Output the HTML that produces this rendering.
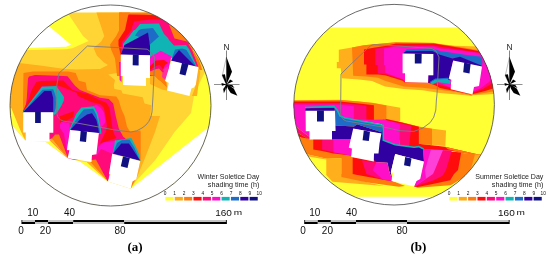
<!DOCTYPE html>
<html><head><meta charset="utf-8"><title>Shading time</title>
<style>
html,body{margin:0;padding:0;background:#fff;}
svg{display:block;font-family:"Liberation Sans",sans-serif;}
</style></head><body>
<svg width="550" height="260" viewBox="0 0 550 260">
<defs>
<clipPath id="cl"><circle cx="110.5" cy="105.5" r="100.5"/></clipPath>
<clipPath id="cr"><circle cx="394.1" cy="104.7" r="100.3"/></clipPath>
</defs>
<rect width="550" height="260" fill="#fff"/>
<g clip-path="url(#cl)">
<polygon points="0,12.6 230,12.6 230,215 0,215" fill="#ffd535"/>
<polygon points="192,38 196,50 205,72 200,82 194,96 191,113 174.6,132 155.3,160 132.5,185 130.7,188.7 230,188.7 230,38" fill="#ffff33"/>
<polygon points="40,22 62,8 69,15 83,36 88.6,41 72.3,48.2 66,49.2 10,50.5 10,30" fill="#ffff33"/>
<polygon points="40,18 50,27 71,44.8 66,46.8 10,48.6 10,18" fill="#ffffff"/>
<polygon points="96.4,12.6 104.3,36 101.2,41.6 93.6,48 96.8,55.4 103.7,62.3 108,65 100,69 76,69.5 65,69 40,65.5 19,63 0,62 0,140 60,140 100,150 130.7,188.7 136.3,179.3 145,158 155,132 160,116 150.2,116 151.4,105.3 144.5,103.4 142.7,97.2 122.6,93.4 121.3,90.3 114.4,89 113.8,85.3 115,80 108.3,74.4 122,72 122,12.6" fill="#ffae1c"/>
<polygon points="119,12.6 119,30.6 116.2,36 110,44.8 111.2,49.8 115,58.6 116.2,68 117,76 122,76 122,50 130,12.6" fill="#ff7d0c"/>
<polygon points="23.5,73 33,71.6 68.2,71.6 75.7,73.1 78.8,80.7 85.7,82.5 87,90 100,95.3 116.3,96.5 118.8,100.3 121.3,109 124.5,116 127,126.7 130,131.7 140.2,130.4 140.7,132 140.7,158 140.3,161 137,176 131,188 120,170 100,150 60,140 23.2,112.3 23,103" fill="#ff7d0c"/>
<polygon points="119,12.6 162,12.6 162,17 128,17" fill="#ff7d0c"/>
<polygon points="128,16 128.6,14.6 144,14.8 160,15.5 165,22 150,30 140,40 126,56 120.5,54.5 118.5,45 118.5,40 125,30" fill="#ff0c0c"/>
<polygon points="134,21.5 150,19.5 160,19.5 168,18 172,26 180,30 190,42 193.3,52.5 198.3,65 199,68 190,66 170,50 140,50 121.5,53.5 121,50 122,42 131.5,30 132,27" fill="#ff0a78"/>
<polygon points="169,24.5 174.5,38.5 187,41.5 189,43.5 200,43.5 200,20 172,20" fill="#ff7d0c"/>
<polygon points="188.5,44 192,50 196,60 198,66 199.5,70 210,70 210,44" fill="#ff7d0c"/>
<polygon points="193,50 199,60 201,66 203,72 212,72 212,50" fill="#ffd535"/>
<polygon points="198,66.5 200.3,72 198.8,82 197,96 192,96 195,88" fill="#ffae1c"/>
<polygon points="29,76.5 35,75 58.2,75.8 67.5,76.3 73.2,83.6 75,85.7 80,90 100,97.8 108.8,99 113.2,103.4 115.7,116 118.8,128.5 123.2,136.7 126,139 120,160 70,160 40,135 23.2,112.3 25.8,105 26.8,98 28,78.5" fill="#ff0a78"/>
<polygon points="36.2,82.3 40.6,81 63.2,80.4 67,84.8 72.5,90 88.9,94.5 100,100.3 106.3,102.8 109.4,107.8 110.7,116 112.5,128.5 113.8,133.6 116.3,138 107.5,141 100,143.6 106.3,130.4 107,126 105.6,116 103.8,107.8 100,104 95.2,103 91.4,102 77.6,95.7 77,93 62,86.7 57,85.5 41.9,86 33,98 24,111.5 23,111 29.3,98 31.2,91" fill="#ff0c0c"/>
<polygon points="73.8,111.3 73.2,117 66.3,120.7 60.2,123 57.5,125 60,116.3" fill="#ff0c0c"/>
<polygon points="57.7,127.6 61.3,121.7 69.5,123 70,130 68.4,138 68,158 63,140" fill="#ff10c8"/>
<polygon points="98,147 99,146 103,142.5 113.5,141 116,140 113,154 108,182 96,156" fill="#ff10c8"/>
<polygon points="140,24 159,23.5 164,34 168,38 169,40 174,45.5 186,45 189,49 194,60 196.5,66 190,66 172,58 150,58 125,55 121.5,53 123,49 123,44 134,30 135,30" fill="#10b4b4"/>
<polygon points="141.5,29 153,28 157,34 159,36.5 150,44.5 148,40 135,35.5 139,30" fill="#1c6cc8"/>
<polygon points="150,57 160.7,50.7 171.4,56.3 169.5,65 168,75 166.5,81 150,80" fill="#ff10c8"/>
<polygon points="162,70 168.5,66 168,75 166.5,81 162,77" fill="#ff30a0"/>
<polygon points="150,66 156,60.5 164,60 168,63 165,65 163,69.5 159,65 155,67 150,70" fill="#ff0c0c"/>
<polygon points="150,70 155,67 159,65 163,69.5 164,72 162.5,72.5 159,68.5 155,69.5 150,71.5" fill="#ff0a78"/>
<polygon points="150,71.5 155,69.5 159,68.5 162.5,72.5 162,77 166.3,80.5 167,88 155,76 150,75" fill="#ff7d0c"/>
<polygon points="150,76 155,76 167,88 167,90.5 162.5,89.8 150,84" fill="#ffae1c"/>
<polygon points="119,62 121.5,62 121.5,82 119.6,80" fill="#ff10c8"/>
<polygon points="148,32.5 150,46 150,55.4 120.6,54.8 121,54 124.5,45" fill="#3000a0"/>
<polygon points="175,49.5 182.5,48.5 186.5,50 193,61 196,66 197.5,67.5 171,61 172.5,57" fill="#1c6cc8"/>
<polygon points="179,50 195,66 197,67.3 171.5,60.5 173,57.5" fill="#3000a0"/>
<polygon points="41.9,86.7 56.3,86 64,97 63.8,100.4 61.5,105.4 57.5,112 54.5,115 53,112.5 22.5,112.5" fill="#10b4b4"/>
<polygon points="42.5,89.8 53.2,89.2 56.5,98 56.2,100 55.6,108.5 54,113 53,112.3 23,112.3" fill="#1c6cc8"/>
<polygon points="44.4,91 51.3,91 53.2,98 53.2,112.3 23,112.3" fill="#3000a0"/>
<polygon points="93.9,106.3 96,104.5 101,108 104,112.5 105.5,122 101,128" fill="#ff10c8"/>
<polygon points="69.4,129.5 76.3,113.8 81.3,107.5 93.9,106.3 97.6,113.8 100.2,125 101.5,133.5 100,134" fill="#10b4b4"/>
<polygon points="70.5,129.8 71.9,125.7 78.8,115.7 83.8,109.4 93.2,108.8 96.4,115 98.9,125 100.3,133.2" fill="#1c6cc8"/>
<polygon points="70.5,129.8 72.5,127.6 80,119.4 87,114.4 92,113.2 96.4,120 98.3,128.2 99,133.3" fill="#3000a0"/>
<polygon points="112.5,153.5 113.8,148 115,140.5 131.4,138 136.4,148 139,154 140.5,161" fill="#10b4b4"/>
<polygon points="113,153.6 117,143 122.6,139.8 129.5,139.8 134.5,148 140,160.5" fill="#1c6cc8"/>
<polygon points="113,153.6 117.6,148 121.3,143.6 128.9,143.6 132,148 140,160.5" fill="#3000a0"/>
<polygon points="11.3,108 19.4,128 23.5,137 25.7,140.8 12.5,125.8 5,120 5,108" fill="#ffff33"/>
<polygon points="49.5,132.7 53.3,132.7 53.3,115 60,115 60,128 64,134 68,158 59,134.5 55,134.5 52,138.3 49.5,139" fill="#ff0a78"/>
<polygon points="52,138.3 55,134.5 59,134.5 68,158" fill="#ff7d0c"/>
<polygon points="49,139.6 52,138.3 68,158" fill="#ffae1c"/>
<polygon points="45.2,141.4 49,139.6 68,158" fill="#ffff33"/>
<polygon points="91.5,155.6 97,155.3 101,149 112.2,153.8 109,174 107.8,181.4" fill="#ff0a78"/>
<polygon points="90.2,162.3 91.5,160 95.9,159.4 107.8,181.4" fill="#ff7d0c"/>
<polygon points="86.5,162 90.2,162.3 107.8,181.4" fill="#ffae1c"/>
<polygon points="79.6,161.3 86.5,162 107.8,181.4" fill="#ffff33"/>
<polygon points="5,124 12.5,125.8 25.7,140.8 45.2,141.4 67.6,158.2 79.6,161.3 107.8,181.4 130.7,188.7 169.6,158 206.3,129 230,110 230,230 0,230" fill="#ffffff"/>
<polygon points="120.8,54.6 150,55.3 150,78 146,78 146,86 123,85 123,76 120.8,76" fill="#fff"/><polygon points="132.8,54.6 138.7,54.8 138.6,65.5 132.7,65.3" fill="#101080"/>
<polygon points="171.2,60.7 198.5,67 195.8,84.8 194,87.5 191.4,88.6 189.5,96 167,90.5 168.8,83 165,81" fill="#fff"/><polygon points="182,62.8 188.5,64.3 185.5,75.5 179.5,74" fill="#101080"/>
<polygon points="23.2,112.3 53.3,112.3 53.3,132.7 49.5,132.7 49.5,141.4 25.7,141.4 25.7,132.5 23.2,132.5" fill="#fff"/><polygon points="35.1,112 40.8,112 40.8,123 35.1,123" fill="#101080"/>
<polygon points="70,129.9 98.9,133 96.4,154.3 92,155 91.5,162 67.6,158.2 69.4,150.3 66.9,150" fill="#fff"/><polygon points="80.7,130.8 87,131.5 86,142 79.8,141.3" fill="#101080"/>
<polygon points="112.2,153.8 140.3,161 136.3,179.3 132.5,181.5 130.7,188.7 107.8,181.4 110.5,174.5 109,173.8" fill="#fff"/><polygon points="123,156.4 129.8,158.1 127.5,168 120.8,166.3" fill="#101080"/>
<path d="M87.4,46 L147.2,49.2 L151,52.3 L154.7,57.3 L153,96 L152,112 Q150.5,123 142,128 Q137,131.5 131,132 L115,130 L77,123 L63,121 Q57.5,119 57,114 L56,96 L57,84 L59,73 L64.8,68 Z" fill="none" stroke="#7d7d86" stroke-width="0.9"/>
</g>
<circle cx="110.5" cy="105.5" r="100.5" fill="none" stroke="#444" stroke-width="0.8"/>
<g clip-path="url(#cr)">
<polygon points="280,27.6 510,27.6 510,196.8 280,196.8" fill="#ffff33"/>
<polygon points="338.8,49.7 352,47.5 364,45.2 374,44.2 396,42.2 433.6,42.8 440,44 455,45.8 478,46.6 500,47.5 500,94.2 494,94 473.2,95.3 471.4,95.8 440,93 422.6,90.2 403.8,89 385,86.5 372,81 358.9,79.5 342,78.3 340.7,68.3 336.8,68.3 336.8,62 338.8,62" fill="#ffae1c"/>
<polygon points="352,47.6 364,45.3 374,44.3 396,42.3 433.6,43 440,44.2 462,47.3 478,50 500,54 500,91.3 493,91.5 473,94.7 471.4,95.5 454,91.5 422.6,87.7 403.8,86.5 385,80.8 378,77.7 366.4,76.5 353.2,75.8" fill="#ff7d0c"/>
<polygon points="364,49.5 375.2,47.6 385,46 396,43.6 433.6,43.6 440,44.6 470,49.6 478.3,50.9 500,55 500,87.5 493,88.5 485,91 473,94 470,94.2 452.5,90.5 440,88 435.2,85.2 428,82.7 405,82.7 402.6,80.8 385,75.2 378,74.5 366.4,74.5 366.4,64.5 364,64.5" fill="#ff0c0c"/>
<polygon points="375.2,48.8 384,47.3 396,45.5 433.6,45.5 440,46.7 470,51.3 478,52.5 500,57 500,81 492,83.5 483,89 473.5,92.6 449,87.5 437.7,84.5 428,82 405,82 402.6,79.5 385,74 377.7,73.5 377.7,65 375.2,65" fill="#ff0a78"/>
<polygon points="384,48.4 396,46.6 433.6,46.6 440,48.5 465,51 481.4,53.6 500,58 500,75 491,80 489,82 481,88 473.5,91.5 460,88 449,87 437.7,82 428,82 405,81.4 402.6,79 400,78.3 385.2,72.7 385.2,65 384,65" fill="#ff10c8"/>
<polygon points="406.7,49.2 432.4,48.5 440,51 465,54.8 481.4,56.7 482.5,62 481.4,66 460,57 452.5,58.6 440,56 433,53.5 404,53.5 403.5,53" fill="#1c6cc8"/>
<polygon points="403.5,53 406,51.3 432.4,51 440,54.8 452.5,58.6 460,56.7 481.4,65.5 482,67 453,61 449,80.8 447.7,79 435.2,79.6 430.2,82.7 428.3,82.7 428.3,75.2 433.3,75.2 433.3,54 403,54" fill="#3000a0"/>
<polygon points="430.2,81.5 435.2,78.4 447.7,77.8 449.3,79 435.2,79.6 430.2,82.7" fill="#1c6cc8"/>
<polygon points="430.2,82.7 435.2,79.6 447.7,79 450.9,81.4 450.2,84 437.7,82 432,84.6" fill="#10b4b4"/>
<polygon points="290,100.4 340,99.8 359,101.4 372.6,102.8 387.7,105.6 400.2,107.8 400.2,121 290,121" fill="#ffae1c"/>
<polygon points="290,100.6 340,100 359,101.6 372.6,103 386.4,105.6 386.4,120 290,120" fill="#ff7d0c"/>
<polygon points="290,101.6 340,101.6 359,103.4 373.9,105.2 373.9,120 290,120" fill="#ff0c0c"/>
<polygon points="290,103 340,103 359,104.8 366.4,105.8 366.4,121 290,121" fill="#ff0a78"/>
<polygon points="290,104.5 340,104.5 353.8,106.3 353.8,121 345,119 338,110 334,107.5 305,108.5 310,108.5 310,137.3 296.5,127 290,124" fill="#ff10c8"/>
<polygon points="290,123.5 296.5,127 310,137.3 310,140 298,133 290,128" fill="#ff0a78"/>
<polygon points="290,128.5 298,133 310,139.8 310,141 299,137 290,132" fill="#ff0c0c"/>
<polygon points="353.8,119.3 372.6,119.8 385,119.5 400,122.5 399.5,145 395.2,144.7 383.3,140.3 382,124.2 345,118.2" fill="#ff10c8"/>
<polygon points="385,118.6 400,121.8 420,126.8 432.7,128.7 446,130.6 445.4,146 408.8,142.8 400,141" fill="#ffae1c"/>
<polygon points="385,118.7 400,121.9 420,126.9 432,128.7 432,144.9 408.8,142.8 400,141" fill="#ff7d0c"/>
<polygon points="385,118.8 400,122 418.8,126.8 418.8,146.6 414,147.2 405,146 400,141" fill="#ff0c0c"/>
<polygon points="399.5,123.3 411.5,125.8 409,146.6 399.5,145" fill="#ff0a78"/>
<polygon points="383,119.6 400,123.4 399.5,145 395.2,144.7 383.3,140.3" fill="#ff10c8"/>
<polygon points="334.5,107.5 337.7,110.8 340,115.8 345,118 383.2,125.3 382.5,132.6 357,124.2 354,126.4 336,125.5 334.5,125" fill="#1c6cc8"/>
<polygon points="334.5,125 336,125.5 354,126.4 357,124.2 382.5,132.6 382,134 354,129 353,141 332,141 332,131" fill="#3000a0"/>
<polygon points="305.5,108.3 334.5,108 334.5,111 305.5,111" fill="#3000a0"/>
<polygon points="381.4,133.4 382.8,127 383.3,140.3 395.2,144.7 414,147.2 418.8,146.6 423.8,149 424,162 395.2,154 390.8,172.2 392.6,181 388.9,170.3 387.6,162.8 375,162 372,160 372,150 377,143" fill="#3000a0"/>
<polygon points="290,132 299,137 310,139 347.8,139 351,155.4 352,157.5 341.4,158.2 327,158.8 308,154.4 295,150" fill="#ff7d0c"/>
<polygon points="300,154 308,154.4 327,158.8 341.4,158.2 341.4,173.8 367.6,182.4 384,186 332.5,181.8 326.3,175 326.3,159.4 305,156" fill="#ffae1c"/>
<polygon points="313.3,139 348,139 351,155.4 333.4,153.5 322.1,151 313.3,149.5" fill="#ff0c0c"/>
<polygon points="322.1,139 348,139 351,155.4 333.4,152.2 322.1,149.7" fill="#ff0a78"/>
<polygon points="333.4,139 353,139 353,156 351,155.4 333.4,152.2" fill="#ff10c8"/>
<polygon points="341.4,157.5 352.7,157 375,161.5 392.6,181 405,186 399,186.8 367.6,182.4 341.4,177" fill="#ff7d0c"/>
<polygon points="352.7,157 374,160 392.6,180.5 392.6,181.6 355,174.5 352.7,174" fill="#ff0c0c"/>
<polygon points="362,160.3 376.3,162.8 390,176 383,179.8 366.3,174" fill="#ff0a78"/>
<polygon points="375,162 387.6,162.8 388.9,170.3 392.6,181 383.2,179.7 372.6,170.3 376.3,162.8" fill="#ff10c8"/>
<polygon points="408.8,142.8 416,143.6 444.9,146.8 475,153.7 482.5,155 474.3,154.6 461,152.6 451,150.7 423.5,149.5 418.8,146.6" fill="#ff0c0c"/>
<polygon points="444.9,146.8 475,153.7 482.5,155 474.3,154.6 461,152.6 448,149.2" fill="#ff7d0c"/>
<polygon points="470,154 482.5,155 490,156 471.8,170 465,180 460,178 468,170" fill="#ffae1c"/>
<polygon points="423.5,149.3 475,154.3 470.6,170 462.7,178 452,184.5 450.2,185.2 417.6,187.7 414.4,186.4 416.5,181 420.2,179 424,161.5" fill="#ff7d0c"/>
<polygon points="423.5,149.3 461.2,152.4 458,170 454,174 450.2,180.2 432.6,184 417.6,187 414.4,186.4 416.5,181 420.2,179 424,161.5" fill="#ff0c0c"/>
<polygon points="423.5,149.3 451.8,150.5 446,170 442.7,175.8 432.6,180.8 414.4,186.4 416.5,181 420.2,179 424,161.5" fill="#ff0a78"/>
<polygon points="423.5,149.3 443,150 434.8,170 433,174 414.4,186.4 416.5,181 420.2,179 424,161.5" fill="#ff40d8"/>
<polygon points="423.5,149.3 431,149.6 425,170 426,178.5 414.4,186.4 416.5,181 420.2,179 424,161.5" fill="#ff10c8"/>
<path d="M305,107.5 L334,106.4 L337.7,110.8 L340,115.8 L345,118 L383.2,125.3 L383.3,140.3 L395.2,144.7 L414,147.2 L418.8,146.6 L423.8,149" fill="none" stroke="#10b4b4" stroke-width="1.6"/>
<polygon points="402.6,53.6 433.3,54 433.3,75.2 428.3,75.2 428,82.7 405,82.3 405,73.3 402.6,73.3" fill="#fff"/><polygon points="414.8,53.5 421.7,53.6 421.5,63.6 414.8,63.5" fill="#101080"/>
<polygon points="453.2,60.5 482,66.5 479,86 474,87 472.5,94.5 450.7,89.2 451.3,79.8 448.8,78.5" fill="#fff"/><polygon points="464.2,62.6 470.6,63.9 469.5,73.5 463.2,72.3" fill="#101080"/>
<polygon points="305.6,110.8 335,110.8 335.6,131 332,131 332,139.6 309.5,139.6 309.5,131.3 305.8,131.3" fill="#fff"/><polygon points="317,110.6 323.9,110.6 323.9,121.5 317,121.5" fill="#101080"/>
<polygon points="353.2,128.4 381.4,133.4 379.5,143.4 378.5,153.5 374,153.5 373.8,161.5 351.3,157 351.9,148.5 348.8,147.8" fill="#fff"/><polygon points="363.8,130.6 370,131.7 368.8,141 362.6,140.3" fill="#101080"/>
<polygon points="395.2,154 424,161.5 420.2,179 416.5,181 414,186.4 391.4,181 393.3,172.8 390.8,172.2" fill="#fff"/><polygon points="405.2,157 411.5,158.6 410.2,166.5 404,165.3" fill="#101080"/>
<path d="M370.2,46 Q372,44.8 374,44.7 L399,46 L432,48.5 L436,51 L439,57 L437,94 L436.4,100 L435.8,110 Q434.5,118 430.2,122.6 Q423,129.5 413.9,131.4 L400,130.7 L385.2,127.4 L346.3,121 Q341,119.5 340.6,113 L341,74 L353.2,62 Z" fill="none" stroke="#7d7d86" stroke-width="0.9"/>
</g>
<circle cx="394.1" cy="104.7" r="100.3" fill="none" stroke="#444" stroke-width="0.8"/>
<text x="226.5" y="49.6" font-size="8.4" text-anchor="middle" fill="#222">N</text>
<line x1="226.5" y1="50.5" x2="226.5" y2="100" stroke="#333" stroke-width="0.6"/>
<line x1="214.0" y1="84.5" x2="239.5" y2="84.5" stroke="#444" stroke-width="0.6"/>
<polygon points="226.5,57.0 222.2,76.0 226.5,84.5" fill="#fff" stroke="#444" stroke-width="0.35"/>
<polygon points="226.5,57.0 232.0,71.8 226.5,84.5" fill="#000"/>
<polygon points="221.9,74.7 224.9,74.3 226.8,83.5 226.5,84.5 225.7,83.5" fill="#000"/>
<polygon points="230.1,79.5 233.1,81.3 226.5,84.5" fill="#000"/>
<polygon points="226.5,84.5 228.1,89.1 230.7,93.1 237.4,95.7 233.9,88.7 229.5,85.5" fill="#000"/>
<polygon points="232.3,85.1 234.5,88.1 226.5,84.5" fill="#000"/>
<polygon points="226.5,84.5 223.2,88.9 223.9,93.3 225.6,89.5" fill="#000"/>
<polygon points="221.5,82.9 221.9,85.7 226.5,84.5" fill="#000"/>
<polygon points="225.5,84.5 227.5,84.5 227.0,88.5 226.0,88.5" fill="#000"/>
<text x="509.5" y="49.6" font-size="8.4" text-anchor="middle" fill="#222">N</text>
<line x1="509.5" y1="50.5" x2="509.5" y2="100" stroke="#333" stroke-width="0.6"/>
<line x1="497.0" y1="84.5" x2="522.5" y2="84.5" stroke="#444" stroke-width="0.6"/>
<polygon points="509.5,57.0 505.2,76.0 509.5,84.5" fill="#fff" stroke="#444" stroke-width="0.35"/>
<polygon points="509.5,57.0 515.0,71.8 509.5,84.5" fill="#000"/>
<polygon points="504.9,74.7 507.9,74.3 509.8,83.5 509.5,84.5 508.7,83.5" fill="#000"/>
<polygon points="513.1,79.5 516.1,81.3 509.5,84.5" fill="#000"/>
<polygon points="509.5,84.5 511.1,89.1 513.7,93.1 520.4,95.7 516.9,88.7 512.5,85.5" fill="#000"/>
<polygon points="515.3,85.1 517.5,88.1 509.5,84.5" fill="#000"/>
<polygon points="509.5,84.5 506.2,88.9 506.9,93.3 508.6,89.5" fill="#000"/>
<polygon points="504.5,82.9 504.9,85.7 509.5,84.5" fill="#000"/>
<polygon points="508.5,84.5 510.5,84.5 510.0,88.5 509.0,88.5" fill="#000"/>
<rect x="165.40" y="196.9" width="8.1" height="3.6" fill="#ffff33"/>
<rect x="174.76" y="196.9" width="8.1" height="3.6" fill="#ffaa10"/>
<rect x="184.12" y="196.9" width="8.1" height="3.6" fill="#ff7d0c"/>
<rect x="193.48" y="196.9" width="8.1" height="3.6" fill="#ff0c0c"/>
<rect x="202.84" y="196.9" width="8.1" height="3.6" fill="#ff0a78"/>
<rect x="212.20" y="196.9" width="8.1" height="3.6" fill="#ff10c8"/>
<rect x="221.56" y="196.9" width="8.1" height="3.6" fill="#10b4b4"/>
<rect x="230.92" y="196.9" width="8.1" height="3.6" fill="#1c6cc8"/>
<rect x="240.28" y="196.9" width="8.1" height="3.6" fill="#3000a0"/>
<rect x="249.64" y="196.9" width="8.1" height="3.6" fill="#101080"/>
<text x="165.20" y="195.3" font-size="4.8" text-anchor="middle" fill="#111">0</text>
<text x="174.60" y="195.3" font-size="4.8" text-anchor="middle" fill="#111">1</text>
<text x="184.00" y="195.3" font-size="4.8" text-anchor="middle" fill="#111">2</text>
<text x="193.40" y="195.3" font-size="4.8" text-anchor="middle" fill="#111">3</text>
<text x="202.80" y="195.3" font-size="4.8" text-anchor="middle" fill="#111">4</text>
<text x="212.20" y="195.3" font-size="4.8" text-anchor="middle" fill="#111">5</text>
<text x="221.60" y="195.3" font-size="4.8" text-anchor="middle" fill="#111">6</text>
<text x="231.00" y="195.3" font-size="4.8" text-anchor="middle" fill="#111">7</text>
<text x="240.40" y="195.3" font-size="4.8" text-anchor="middle" fill="#111">8</text>
<text x="249.80" y="195.3" font-size="4.8" text-anchor="middle" fill="#111">9</text>
<text x="259.20" y="195.3" font-size="4.8" text-anchor="middle" fill="#111">10</text>
<text x="259.4" y="179.3" font-size="7.05" text-anchor="end" fill="#222">Winter Soletice Day</text>
<text x="259.4" y="186.6" font-size="7.2" text-anchor="end" fill="#222">shading time (h)</text>
<rect x="449.40" y="196.9" width="8.1" height="3.6" fill="#ffff33"/>
<rect x="458.76" y="196.9" width="8.1" height="3.6" fill="#ffaa10"/>
<rect x="468.12" y="196.9" width="8.1" height="3.6" fill="#ff7d0c"/>
<rect x="477.48" y="196.9" width="8.1" height="3.6" fill="#ff0c0c"/>
<rect x="486.84" y="196.9" width="8.1" height="3.6" fill="#ff0a78"/>
<rect x="496.20" y="196.9" width="8.1" height="3.6" fill="#ff10c8"/>
<rect x="505.56" y="196.9" width="8.1" height="3.6" fill="#10b4b4"/>
<rect x="514.92" y="196.9" width="8.1" height="3.6" fill="#1c6cc8"/>
<rect x="524.28" y="196.9" width="8.1" height="3.6" fill="#3000a0"/>
<rect x="533.64" y="196.9" width="8.1" height="3.6" fill="#101080"/>
<text x="449.20" y="195.3" font-size="4.8" text-anchor="middle" fill="#111">0</text>
<text x="458.60" y="195.3" font-size="4.8" text-anchor="middle" fill="#111">1</text>
<text x="468.00" y="195.3" font-size="4.8" text-anchor="middle" fill="#111">2</text>
<text x="477.40" y="195.3" font-size="4.8" text-anchor="middle" fill="#111">3</text>
<text x="486.80" y="195.3" font-size="4.8" text-anchor="middle" fill="#111">4</text>
<text x="496.20" y="195.3" font-size="4.8" text-anchor="middle" fill="#111">5</text>
<text x="505.60" y="195.3" font-size="4.8" text-anchor="middle" fill="#111">6</text>
<text x="515.00" y="195.3" font-size="4.8" text-anchor="middle" fill="#111">7</text>
<text x="524.40" y="195.3" font-size="4.8" text-anchor="middle" fill="#111">8</text>
<text x="533.80" y="195.3" font-size="4.8" text-anchor="middle" fill="#111">9</text>
<text x="543.20" y="195.3" font-size="4.8" text-anchor="middle" fill="#111">10</text>
<text x="543.4" y="179.3" font-size="7.05" text-anchor="end" fill="#222">Summer Soletice Day</text>
<text x="543.4" y="186.6" font-size="7.2" text-anchor="end" fill="#222">shading time (h)</text>
<rect x="21.90" y="220" width="13.10" height="2" fill="#c4c4c4"/>
<rect x="21.90" y="222" width="13.10" height="2" fill="#000"/>
<rect x="35.00" y="220" width="13.10" height="2" fill="#000"/>
<rect x="35.00" y="222" width="13.10" height="2" fill="#c4c4c4"/>
<rect x="48.10" y="220" width="25.10" height="2" fill="#c4c4c4"/>
<rect x="48.10" y="222" width="25.10" height="2" fill="#000"/>
<rect x="73.20" y="220" width="51.00" height="2" fill="#000"/>
<rect x="73.20" y="222" width="51.00" height="2" fill="#c4c4c4"/>
<rect x="124.20" y="220" width="102.20" height="2" fill="#c4c4c4"/>
<rect x="124.20" y="222" width="102.20" height="2" fill="#000"/>
<rect x="21.50" y="220" width="0.8" height="4" fill="#000"/>
<rect x="225.90" y="220" width="0.9" height="4" fill="#000"/>
<text x="32.8" y="216.3" font-size="10" text-anchor="middle" fill="#111">10</text>
<text x="69.6" y="216.3" font-size="10" text-anchor="middle" fill="#111">40</text>
<text x="21.0" y="234.1" font-size="10" text-anchor="middle" fill="#111">0</text>
<text x="45.4" y="234.1" font-size="10" text-anchor="middle" fill="#111">20</text>
<text x="120.1" y="234.1" font-size="10" text-anchor="middle" fill="#111">80</text>
<text transform="translate(215.2,215.7) scale(1.06,1)" font-size="9.5" fill="#111">160</text>
<text transform="translate(233.7,214.7) scale(1.12,0.9)" font-size="9" fill="#111">m</text>
<rect x="304.70" y="220" width="13.10" height="2" fill="#c4c4c4"/>
<rect x="304.70" y="222" width="13.10" height="2" fill="#000"/>
<rect x="317.80" y="220" width="13.10" height="2" fill="#000"/>
<rect x="317.80" y="222" width="13.10" height="2" fill="#c4c4c4"/>
<rect x="330.90" y="220" width="25.10" height="2" fill="#c4c4c4"/>
<rect x="330.90" y="222" width="25.10" height="2" fill="#000"/>
<rect x="356.00" y="220" width="51.00" height="2" fill="#000"/>
<rect x="356.00" y="222" width="51.00" height="2" fill="#c4c4c4"/>
<rect x="407.00" y="220" width="102.20" height="2" fill="#c4c4c4"/>
<rect x="407.00" y="222" width="102.20" height="2" fill="#000"/>
<rect x="304.30" y="220" width="0.8" height="4" fill="#000"/>
<rect x="508.70" y="220" width="0.9" height="4" fill="#000"/>
<text x="314.8" y="216.3" font-size="10" text-anchor="middle" fill="#111">10</text>
<text x="351.6" y="216.3" font-size="10" text-anchor="middle" fill="#111">40</text>
<text x="303.0" y="234.1" font-size="10" text-anchor="middle" fill="#111">0</text>
<text x="327.4" y="234.1" font-size="10" text-anchor="middle" fill="#111">20</text>
<text x="402.1" y="234.1" font-size="10" text-anchor="middle" fill="#111">80</text>
<text transform="translate(498.0,215.7) scale(1.06,1)" font-size="9.5" fill="#111">160</text>
<text transform="translate(516.5,214.7) scale(1.12,0.9)" font-size="9" fill="#111">m</text>
<text x="135" y="250.8" font-size="13" font-weight="bold" font-family="'Liberation Serif',serif" text-anchor="middle">(a)</text>
<text x="418.4" y="250.8" font-size="13" font-weight="bold" font-family="'Liberation Serif',serif" text-anchor="middle">(b)</text>
</svg>
</body></html>
